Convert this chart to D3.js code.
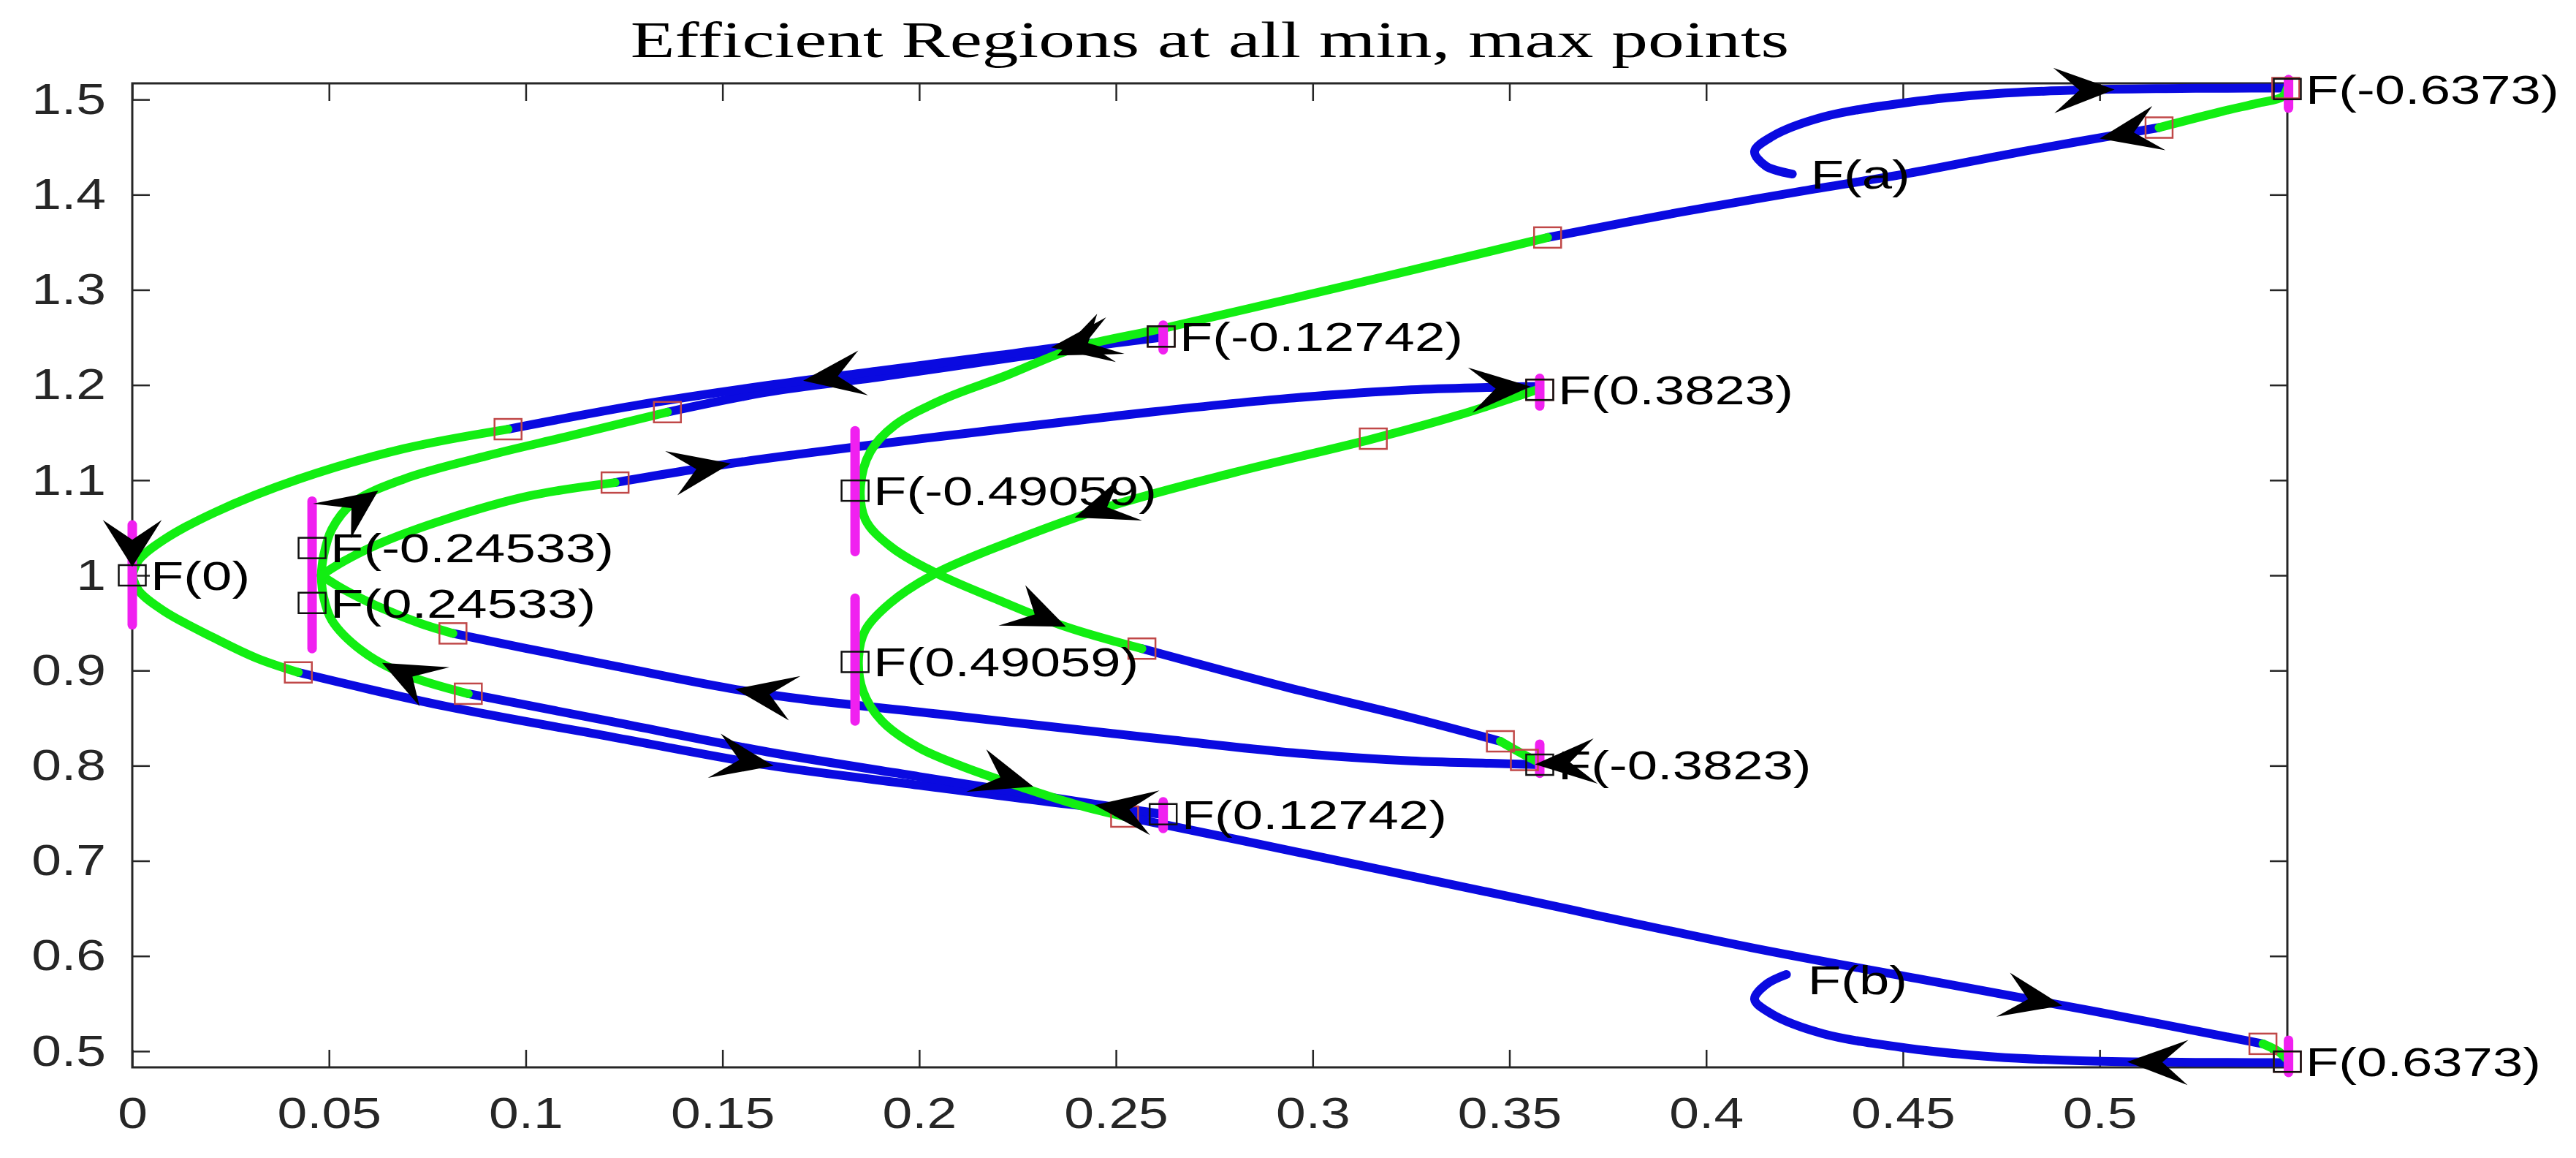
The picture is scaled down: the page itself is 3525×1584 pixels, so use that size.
<!DOCTYPE html>
<html>

<head>
  <title>Efficient Regions at all min, max points</title>
  <meta charset="UTF-8" />
  <script src="https://cdn.jsdelivr.net/npm/d3@7"></script>
</head>

<style>
  body {
    margin: 0;
    background: #fff;
  }

  svg {
    display: block;
  }

  .tick text {
    font-family: 'Liberation Sans', Arial, sans-serif;
    font-size: 60px;
    fill: #262626;
  }
</style>

<body>
  <svg id="chart"></svg>
  <script>
    let width = 3525,
      height = 1584;

    // axis ticks
    const xTicks = [0, 0.05, 0.1, 0.15, 0.2, 0.25, 0.3, 0.35, 0.4, 0.45, 0.5];
    const yTicks = [0.5, 0.6, 0.7, 0.8, 0.9, 1, 1.1, 1.2, 1.3, 1.4, 1.5];

    // pieces of the curve F(t), in order of t
    const loopTop = [[0.4219, 1.4217], [0.4152, 1.430], [0.4123, 1.4455], [0.4167, 1.461], [0.4297, 1.4816], [0.4514, 1.497], [0.4734, 1.506], [0.495, 1.510], [0.5168, 1.5115], [0.5385, 1.512], [0.5477, 1.512]];
    const topRightGreen = [[0.5477, 1.512], [0.5465, 1.503], [0.540, 1.496], [0.5313, 1.4877], [0.5151, 1.4705]];
    const upperDiagBlue = [[0.5151, 1.4705], [0.4806, 1.4455], [0.4514, 1.4224], [0.4225, 1.4025], [0.3935, 1.3817], [0.3597, 1.355]];
    const upperSweepGreen = [[0.3597, 1.355], [0.3092, 1.305], [0.263, 1.2604], [0.2396, 1.2388], [0.2215, 1.209], [0.2061, 1.185], [0.1937, 1.1575], [0.1876, 1.130], [0.1851, 1.094], [0.1863, 1.0587], [0.1926, 1.0307], [0.2043, 1.0023], [0.2202, 0.9739], [0.2373, 0.9459], [0.2566, 0.923]];
    const lowerMidBlue = [[0.2566, 0.923], [0.2938, 0.882], [0.3246, 0.851], [0.3477, 0.8256]];
    const lowerMidGreen = [[0.3477, 0.8256], [0.3535, 0.812], [0.3577, 0.803]];
    const lowerGentleBlue = [[0.3577, 0.801], [0.345, 0.8025], [0.325, 0.805], [0.295, 0.8135], [0.263, 0.8275], [0.2323, 0.8415], [0.2054, 0.854], [0.1707, 0.8698], [0.1521, 0.881], [0.1222, 0.905], [0.1, 0.9233], [0.0815, 0.939]];
    const lowerGentleGreen = [[0.0815, 0.939], [0.0732, 0.9495], [0.0635, 0.9654], [0.054, 0.9846], [0.048, 1.0]];
    const upperSteepGreen = [[0.048, 1.0], [0.0486, 1.02], [0.0507, 1.0484], [0.0561, 1.0763], [0.0689, 1.101], [0.0902, 1.1257], [0.1115, 1.1468], [0.136, 1.1715]];
    const upperSteepBlue = [[0.136, 1.1715], [0.1614, 1.1925], [0.19, 1.2085], [0.22, 1.2265], [0.245, 1.2415], [0.2615, 1.25]];
    const outerUpperBlue = [[0.2615, 1.251], [0.245, 1.2445], [0.22, 1.231], [0.19, 1.215], [0.1614, 1.1995], [0.13, 1.18], [0.0955, 1.1536]];
    const outerUpperGreen = [[0.0955, 1.1536], [0.0689, 1.133], [0.0422, 1.101], [0.0209, 1.066], [0.0081, 1.0376], [0.0017, 1.0164], [0, 1.0]];
    const outerLowerGreen = [[0, 1.0], [0.0017, 0.9836], [0.0081, 0.9624], [0.0209, 0.934], [0.0316, 0.913], [0.0422, 0.898]];
    const outerLowerBlue = [[0.0422, 0.898], [0.0795, 0.8625], [0.1222, 0.830], [0.1614, 0.8005], [0.2, 0.7795], [0.24, 0.7585], [0.262, 0.749]];
    const lowerSteepBlue = [[0.262, 0.749], [0.24, 0.7625], [0.2, 0.7885], [0.1614, 0.8145], [0.1222, 0.846], [0.0854, 0.8756]];
    const lowerSteepGreen = [[0.0854, 0.8756], [0.0689, 0.8965], [0.0582, 0.9212], [0.0507, 0.9529], [0.0486, 0.9777], [0.048, 1.0]];
    const upperGentleGreen = [[0.048, 1.0], [0.054, 1.0154], [0.0635, 1.0346], [0.0795, 1.0587], [0.1008, 1.0834], [0.1227, 1.0975]];
    const upperGentleBlue = [[0.1227, 1.0975], [0.1521, 1.1175], [0.1707, 1.128], [0.2054, 1.146], [0.2323, 1.159], [0.2587, 1.1715], [0.2938, 1.186], [0.325, 1.195], [0.345, 1.1975], [0.3577, 1.1985]];
    const lowerSweepGreen = [[0.3577, 1.196], [0.3368, 1.168], [0.3154, 1.1436], [0.280, 1.108], [0.2477, 1.0716], [0.2245, 1.0373], [0.2043, 1.0023], [0.1926, 0.9708], [0.1863, 0.9424], [0.1846, 0.914], [0.1857, 0.8787], [0.1905, 0.847], [0.2, 0.8187], [0.2117, 0.798], [0.2267, 0.7765], [0.2396, 0.7596], [0.2522, 0.7465]];
    const lowerDiagBlue = [[0.2522, 0.7465], [0.2821, 0.7212], [0.3469, 0.6651], [0.4118, 0.6085], [0.455, 0.5753], [0.4982, 0.5422], [0.5415, 0.5077]];
    const bottomRightGreen = [[0.5415, 0.5077], [0.5455, 0.4995], [0.5477, 0.491]];
    const loopBottom = [[0.5477, 0.488], [0.5385, 0.488], [0.5168, 0.4885], [0.495, 0.490], [0.4734, 0.494], [0.4514, 0.503], [0.4297, 0.5184], [0.4167, 0.539], [0.4123, 0.5545], [0.4152, 0.570], [0.4204, 0.5806]];

    const blueParts = [loopTop, upperDiagBlue, lowerMidBlue, lowerGentleBlue, upperSteepBlue, outerUpperBlue, outerLowerBlue, lowerSteepBlue, upperGentleBlue, lowerDiagBlue, loopBottom];
    const greenParts = [topRightGreen, upperSweepGreen, lowerMidGreen, lowerGentleGreen, upperSteepGreen, outerUpperGreen, outerLowerGreen, lowerSteepGreen, upperGentleGreen, lowerSweepGreen, bottomRightGreen];

    // efficient regions at the min / max points: [x, yFrom, yTo]
    const regionBars = [[0, 0.948, 1.053], [0.0457, 0.923, 1.078], [0.1837, 1.025, 1.152], [0.1837, 0.847, 0.976], [0.262, 1.237, 1.263], [0.262, 0.734, 0.762], [0.3577, 1.178, 1.207], [0.3577, 0.792, 0.8226], [0.548, 1.491, 1.521], [0.548, 0.4777, 0.5115]];

    // points where the curve switches colour
    const switchPoints = [[0.5151, 1.4705], [0.3597, 1.355], [0.136, 1.1715], [0.0955, 1.1536], [0.1227, 1.0975], [0.3154, 1.1436], [0.0422, 0.898], [0.0854, 0.8756], [0.0815, 0.939], [0.2566, 0.923], [0.3477, 0.8256], [0.3538, 0.806], [0.2522, 0.7465], [0.5415, 0.5077], [0.5473, 1.512], [0.2615, 1.251], [0.3577, 1.195], [0.5477, 0.489]];

    // labelled points: [text, x, y, marked]
    const labelPoints = [
      ['F(-0.6373)', 0.5477, 1.511, true],
      ['F(a)', 0.4219, 1.4217, false],
      ['F(-0.12742)', 0.2615, 1.251, true],
      ['F(0.3823)', 0.3577, 1.195, true],
      ['F(-0.49059)', 0.1837, 1.089, true],
      ['F(-0.24533)', 0.0457, 1.0287, true],
      ['F(0)', 0, 1.0, true],
      ['F(0.24533)', 0.0457, 0.971, true],
      ['F(0.49059)', 0.1837, 0.909, true],
      ['F(-0.3823)', 0.3577, 0.801, true],
      ['F(0.12742)', 0.262, 0.749, true],
      ['F(b)', 0.4212, 0.575, false],
      ['F(0.6373)', 0.5477, 0.489, true],
    ];

    // direction arrows: [fromX, fromY, tipX, tipY]
    const arrowMarks = [
      [0.488, 1.5095, 0.5038, 1.5105],
      [0.513, 1.4685, 0.500, 1.459],
      [0.2485, 1.2475, 0.2335, 1.2395],
      [0.2445, 1.2468, 0.235, 1.231],
      [0.19, 1.215, 0.1705, 1.2046],
      [0.335, 1.1935, 0.3554, 1.1983],
      [0.135, 1.106, 0.1521, 1.1175],
      [0.054, 1.066, 0.0625, 1.089],
      [0, 1.043, 0, 1.009],
      [0.2477, 1.0716, 0.2395, 1.0607],
      [0.2202, 0.9739, 0.2373, 0.946],
      [0.072, 0.892, 0.0635, 0.908],
      [0.17, 0.8698, 0.1532, 0.8805],
      [0.145, 0.8125, 0.163, 0.7998],
      [0.2117, 0.798, 0.229, 0.778],
      [0.258, 0.7515, 0.2446, 0.7585],
      [0.368, 0.804, 0.3565, 0.8015],
      [0.472, 0.562, 0.4905, 0.548],
      [0.52, 0.4882, 0.507, 0.4888],
    ];

    let svg = d3.select('#chart').attr('width', width).attr('height', height);
    svg.append('rect').attr('width', width).attr('height', height).attr('fill', '#fff');

    let x = d3.scaleLinear().domain([0, 0.5477]).range([181, 3130]);
    let y = d3.scaleLinear().domain([0.483, 1.517]).range([1460, 114]);

    // the picture is stretched sideways; text and marks follow that
    let stretch = (sel, k) => {
      sel.each(function () {
        let w = this.getComputedTextLength();
        d3.select(this).attr('textLength', w * k).attr('lengthAdjust', 'spacingAndGlyphs');
      });
    };

    // axes with inward ticks on all four sides
    let fmt = d3.format('~g');
    let axes = [
      [d3.axisBottom(x).tickValues(xTicks).tickFormat(fmt), `translate(0,${y.range()[0]})`],
      [d3.axisTop(x).tickValues(xTicks).tickFormat(''), `translate(0,${y.range()[1]})`],
      [d3.axisLeft(y).tickValues(yTicks).tickFormat(fmt), `translate(${x.range()[0]},0)`],
      [d3.axisRight(y).tickValues(yTicks).tickFormat(''), `translate(${x.range()[1]},0)`],
    ];
    axes.forEach(([ax, tr], i) => {
      let g = svg.append('g').attr('transform', tr)
        .call(ax.tickSizeInner(-24).tickSizeOuter(0).tickPadding(i == 0 ? 40 : 36));
      g.select('.domain').remove();
      g.selectAll('.tick line').attr('stroke', '#262626').attr('stroke-width', 2.5);
    });
    stretch(svg.selectAll('.tick text'), 1.22);

    svg.append('rect')
      .attr('x', x.range()[0]).attr('y', y.range()[1])
      .attr('width', x.range()[1] - x.range()[0])
      .attr('height', y.range()[0] - y.range()[1])
      .attr('fill', 'none').attr('stroke', '#262626').attr('stroke-width', 3);

    // title
    let title = svg.append('text')
      .attr('x', (x.range()[0] + x.range()[1]) / 2).attr('y', 78)
      .attr('text-anchor', 'middle')
      .style('font-family', "'Liberation Serif', 'Times New Roman', serif")
      .style('font-size', '70px').attr('fill', '#000')
      .text('Efficient Regions at all min, max points');
    stretch(title, 1.42);

    let line = d3.line().x(d => x(d[0])).y(d => y(d[1])).curve(d3.curveCatmullRom.alpha(0.5));

    let curves = svg.append('g').attr('fill', 'none')
      .attr('stroke-linecap', 'round').attr('stroke-linejoin', 'round');
    curves.selectAll('path.blue').data(blueParts).enter().append('path')
      .attr('class', 'blue').attr('d', line).attr('stroke', '#0a0ae0').attr('stroke-width', 12);
    curves.selectAll('path.green').data(greenParts).enter().append('path')
      .attr('class', 'green').attr('d', line).attr('stroke', '#12ee12').attr('stroke-width', 12);

    svg.append('g').selectAll('line').data(regionBars).enter().append('line')
      .attr('x1', d => x(d[0])).attr('x2', d => x(d[0]))
      .attr('y1', d => y(d[1])).attr('y2', d => y(d[2]))
      .attr('stroke', '#f020f0').attr('stroke-width', 13).attr('stroke-linecap', 'round');

    let sqW = 37, sqH = 28;
    svg.append('g').selectAll('rect').data(switchPoints).enter().append('rect')
      .attr('x', d => x(d[0]) - sqW / 2).attr('y', d => y(d[1]) - sqH / 2)
      .attr('width', sqW).attr('height', sqH)
      .attr('fill', 'none').attr('stroke', '#c04848').attr('stroke-width', 2.5);

    svg.append('g').selectAll('rect').data(labelPoints.filter(d => d[3])).enter().append('rect')
      .attr('x', d => x(d[1]) - sqW / 2).attr('y', d => y(d[2]) - sqH / 2)
      .attr('width', sqW).attr('height', sqH)
      .attr('fill', 'none').attr('stroke', '#111').attr('stroke-width', 2.5);

    let labels = svg.append('g').selectAll('text').data(labelPoints).enter().append('text')
      .attr('x', d => x(d[1]) + 25).attr('y', d => y(d[2]))
      .attr('dy', '0.36em')
      .style('font-family', "'Liberation Sans', Arial, sans-serif")
      .style('font-size', '55px').attr('fill', '#000')
      .text(d => d[0]);
    stretch(labels, 1.35);

    // arrowheads, tip at origin pointing along +x
    let L = 64, W = 31, N = 37, sx = 1.3;
    svg.append('g').selectAll('path').data(arrowMarks).enter().append('path')
      .attr('d', `M0,0L${-L},${-W}L${-N},0L${-L},${W}Z`)
      .attr('fill', '#000')
      .attr('transform', d => {
        let dx = x(d[2]) - x(d[0]), dy = y(d[3]) - y(d[1]);
        let a = Math.atan2(dy, dx / sx) * 180 / Math.PI;
        return `translate(${x(d[2])},${y(d[3])}) scale(${sx},1) rotate(${a})`;
      });
  </script>
</body>

</html>
